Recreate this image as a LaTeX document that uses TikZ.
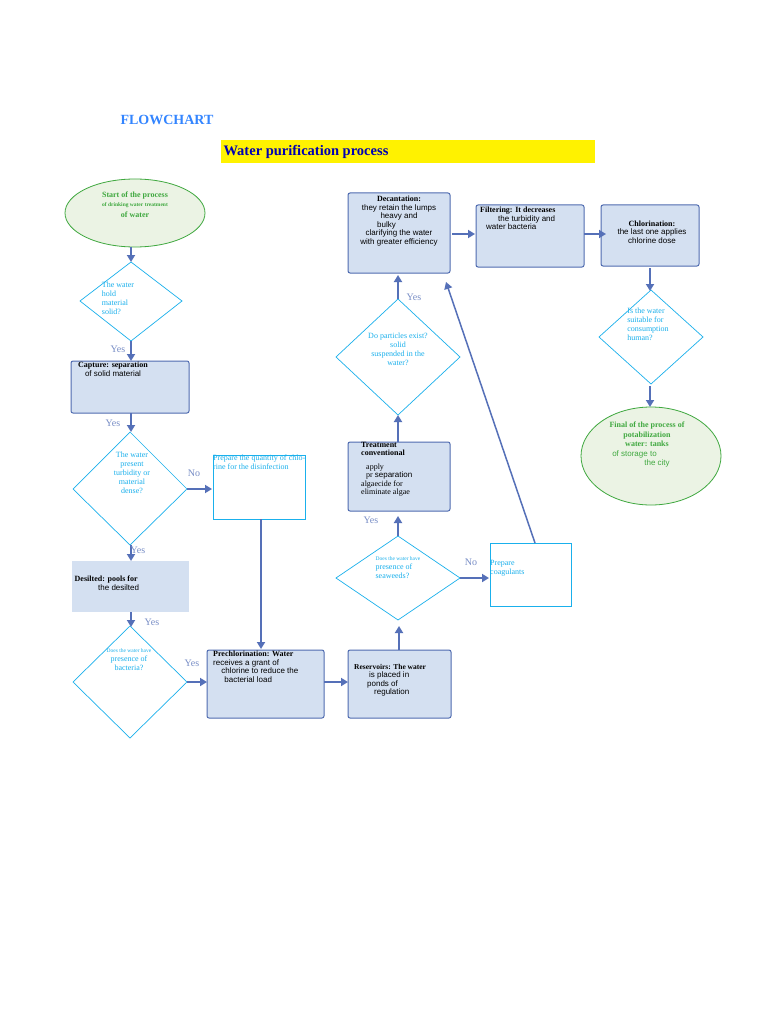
\documentclass[tikz,border=0pt]{standalone}
\usepackage{fontspec}
\setmainfont{Liberation Serif}
\newfontfamily\sansf{Liberation Sans}
\usetikzlibrary{shapes.geometric,arrows.meta}
\definecolor{bfill}{HTML}{D4E0F1}
\definecolor{bdraw}{HTML}{4F6BB0}
\definecolor{arr}{HTML}{5570B8}
\definecolor{cy}{HTML}{1AB0EC}
\definecolor{gr}{HTML}{3FA83F}
\definecolor{gfill}{HTML}{EBF3E4}
\begin{document}
\begin{tikzpicture}[x=1pt,y=-1pt,
 box/.style={draw=bdraw,fill=bfill,rounded corners=2pt,line width=1pt},
 cbox/.style={draw=cy,line width=1pt},
 dia/.style={draw=cy,line width=0.7pt},
 ell/.style={draw=gr,fill=gfill,line width=0.8pt},
 ar/.style={draw=arr,line width=2pt,-{Triangle[width=8pt,length=7pt]}},
 yl/.style={text=arr!80,font=\fontsize{10}{10}\selectfont},
 ct/.style={text=cy,font=\fontsize{8}{9}\selectfont,align=left,inner sep=0pt},
 bt/.style={font=\fontsize{8}{8.5}\selectfont,align=center,inner sep=0pt},
 gt/.style={text=gr,font=\fontsize{8}{9.5}\selectfont\bfseries,align=center,inner sep=0pt}]
\useasboundingbox (0,0) rectangle (768,1024);
\fill[white] (0,0) rectangle (768,1024);
\node[anchor=west,text=blue!60!cyan!80,font=\fontsize{14}{14}\selectfont\bfseries] (ttl) at (117,120) {FLOWCHART};
\fill[yellow] (221,140) rectangle (595,163);
\node[anchor=west,text=blue!70!black,font=\fontsize{14.5}{14}\selectfont\bfseries] (sub) at (220,152) {Water purification process};
% shapes
\draw[ell] (135,213) ellipse (70 and 34);
\node[gt] (start) at (135,205) {Start of the process\\[-1pt]{\fontsize{5.5}{7}\selectfont of drinking water treatment}\\[2pt]of water};
\coordinate (startb) at (131,247);
\draw[dia] (131,262) -- (182,301) -- (131,341) -- (80,301) -- cycle;
\node[ct] (d1) at (118,298) {The water\\hold\\material\\solid?};
\draw[box] (71,361) rectangle (189,413);
\node[bt,anchor=north west] (cap) at (78,362) {\textbf{Capture:} \textbf{separation}\\\sansf of solid material};
\draw[dia] (130,432) -- (187,489) -- (130,545) -- (73,489) -- cycle;
\node[ct,align=center] (d2) at (132,473) {The water\\present\\turbidity or\\material\\dense?};
\draw[cbox] (213,455) rectangle (305,519);
\node[ct,anchor=north west,text width=92pt,align=justify] (prep) at (213,455) {Prepare the quantity of chlorine for the disinfection};
\fill[bfill] (72,561) rectangle (189,612);
\node[bt,anchor=west] (des) at (73,583) {\textbf{Desilted: pools for}\\\sansf\hspace*{25pt}the desilted};
\draw[dia] (130,626) -- (187,682) -- (130,738) -- (73,682) -- cycle;
\node[ct,align=center] (d3) at (129,660) {{\fontsize{5.5}{7}\selectfont Does the water have}\\presence of\\bacteria?};
\draw[box] (207,650) rectangle (324,718);
\node[bt,anchor=north west,align=left] (pre) at (213,651) {\textbf{Prechlorination: Water}\\\sansf receives a grant of\\\sansf\hspace*{6pt} chlorine to reduce the\\\sansf\hspace*{9pt} bacterial load};
\draw[box] (348,650) rectangle (451,718);
\node[bt,align=left,anchor=north west] (res) at (354,664) {{\fontsize{7.5}{8}\selectfont\textbf{Reservoirs: The water}}\\\sansf\hspace*{15pt}is placed in\\\sansf\hspace*{13pt}ponds of\\\sansf\hspace*{20pt}regulation};
\draw[dia] (398,536) -- (460,578) -- (398,620) -- (336,578) -- cycle;
\node[ct] (d4) at (398,568) {{\fontsize{5.5}{7}\selectfont Does the water have}\\presence of\\seaweeds?};
\draw[cbox] (490,543) rectangle (571,606);
\node[ct,anchor=north west] (coag) at (490,560) {Prepare\\coagulants};
\draw[box] (348,442) rectangle (450,511);
\node[bt,anchor=north west,align=left] (trt) at (361,442) {\textbf{Treatment}\\\textbf{conventional}\\[5pt]\hspace*{5pt}apply\\\hspace*{5pt}pr {\sansf separation}\\algaecide for\\eliminate algae};
\draw[dia] (398,299) -- (460,357) -- (398,415) -- (336,357) -- cycle;
\node[ct,align=center] (d5) at (398,349) {Do particles exist?\\solid\\suspended in the\\water?};
\draw[box] (348,193) rectangle (450,273);
\node[bt] (dec) at (399,221) {\textbf{Decantation:}\\\sansf they retain the lumps\\\sansf heavy and\\\sansf\hspace*{-25pt}bulky\\\sansf clarifying the water\\\sansf with greater efficiency};
\draw[box] (476,205) rectangle (584,267);
\node[bt,align=left,anchor=north west] (fil) at (480,207) {\textbf{Filtering: It decreases}\\\sansf\hspace*{18pt}the turbidity and\\\sansf\hspace*{6pt}water bacteria};
\draw[box] (601,205) rectangle (699,266);
\node[bt] (chl) at (652,232) {\textbf{Chlorination:}\\\sansf the last one applies\\\sansf chlorine dose};
\draw[dia] (651,290) -- (703,337) -- (651,384) -- (599,337) -- cycle;
\node[ct] (d6) at (648,324) {Is the water\\suitable for\\consumption\\human?};
\draw[ell] (651,456) ellipse (70 and 49);
\node[gt] (fin) at (647,445) {Final of the process of\\potabilization\\water: tanks\\{\sansf\mdseries\hspace*{-25pt}of storage to}\\{\sansf\mdseries\hspace*{20pt}the city}};
% coordinates
\coordinate (a1) at (131,262); \coordinate (b1) at (131,341); \coordinate (b1e) at (131,361);
\coordinate (a2) at (131,413); \coordinate (a2e) at (131,432);
\coordinate (p2) at (187,489); \coordinate (p2e) at (212,489);
\coordinate (pb) at (261,519); \coordinate (pbe) at (261,649);
\coordinate (d2b) at (131,545); \coordinate (d2be) at (131,561);
\coordinate (dsb) at (131,612); \coordinate (dsbe) at (131,627);
\coordinate (d3r) at (187,682); \coordinate (d3re) at (207,682);
\coordinate (pr) at (324,682); \coordinate (pre2) at (348,682);
\coordinate (rt) at (399,650); \coordinate (rte) at (399,626);
\coordinate (d4t) at (398,536); \coordinate (d4te) at (398,516);
\coordinate (d4r) at (460,578); \coordinate (d4re) at (489,578);
\coordinate (cg) at (535,543); \coordinate (cge) at (446,282);
\coordinate (tt) at (398,442); \coordinate (tte) at (398,415);
\coordinate (d5t) at (398,299); \coordinate (d5te) at (398,275);
\coordinate (dr) at (452,234); \coordinate (dre) at (475,234);
\coordinate (fr) at (584,234); \coordinate (fre) at (606,234);
\coordinate (cb) at (650,268); \coordinate (cbe) at (650,291);
\coordinate (d6b) at (650,386); \coordinate (d6be) at (650,407);
\draw[ar] (startb) -- (a1);
\draw[ar] (b1) -- (b1e);
\draw[ar] (a2) -- (a2e);
\draw[ar] (p2) -- (p2e);
\draw[ar] (pb) -- (pbe);
\draw[ar] (d2b) -- (d2be);
\draw[ar] (dsb) -- (dsbe);
\draw[ar] (d3r) -- (d3re);
\draw[ar] (pr) -- (pre2);
\draw[ar] (rt) -- (rte);
\draw[ar] (d4t) -- (d4te);
\draw[ar] (d4r) -- (d4re);
\draw[arr,line width=1.5pt,-{Triangle[width=8pt,length=7pt]}] (cg) -- (cge);
\draw[ar] (tt) -- (tte);
\draw[ar] (d5t) -- (d5te);
\draw[ar] (dr) -- (dre);
\draw[ar] (fr) -- (fre);
\draw[ar] (cb) -- (cbe);
\draw[ar] (d6b) -- (d6be);
% labels
\node[yl] (y1) at (118,349) {Yes};
\node[yl] (y2) at (113,423) {Yes};
\node[yl] (n1) at (194,473) {No};
\node[yl] (y3) at (138,550) {Yes};
\node[yl] (y4) at (152,622) {Yes};
\node[yl] (y5) at (192,663) {Yes};
\node[yl] (y6) at (371,520) {Yes};
\node[yl] (n2) at (471,562) {No};
\node[yl] (y7) at (414,297) {Yes};
\end{tikzpicture}
\end{document}
